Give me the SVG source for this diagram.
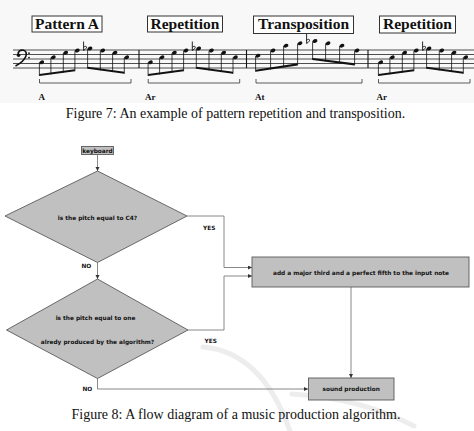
<svg xmlns="http://www.w3.org/2000/svg" xmlns:xlink="http://www.w3.org/1999/xlink" width="474" height="431" viewBox="0 0 474 431">
<style>
.staff{stroke:#222;stroke-width:0.8}
.bar{stroke:#111;stroke-width:1.1}
.head{fill:#111}
.stem{stroke:#111;stroke-width:0.8}
.beam{fill:#111}
.flat{stroke:#111;stroke-width:0.9;fill:none}
.brk{stroke:#333;stroke-width:0.8;fill:none}
.title{font-family:"Liberation Serif",serif;font-weight:bold;font-size:15.5px;fill:#111;text-anchor:middle}
.tbox{fill:#fff;stroke:#333;stroke-width:1}
.lab{font-family:"Liberation Serif",serif;font-weight:bold;font-size:9px;fill:#111}
.cap{font-family:"Liberation Serif",serif;font-size:14px;fill:#111;text-anchor:middle}
.node{fill:#c0c0c0;stroke:#5a5a5a;stroke-width:0.9}
.ft{font-family:"DejaVu Sans",sans-serif;font-weight:bold;font-size:5.8px;fill:#111;text-anchor:middle}
.fl{font-family:"DejaVu Sans",sans-serif;font-weight:bold;font-size:5.8px;fill:#111}
.conn{stroke:#7a7a7a;stroke-width:0.9;fill:none}
.wm{stroke:#ededed;stroke-width:5;fill:none;stroke-linecap:round}
</style>
<defs>
<marker id="arr" markerUnits="userSpaceOnUse" markerWidth="6" markerHeight="6" refX="4" refY="2" orient="auto">
<path d="M0,0 L4,2 L0,4 Z" fill="#333"/>
</marker>
<g id="pat">
<ellipse class="head" cx="41.7" cy="62.3" rx="2.5" ry="1.8" transform="rotate(-25 41.7 62.3)"/>
<ellipse class="head" cx="53.3" cy="57.3" rx="2.5" ry="1.8" transform="rotate(-25 53.3 57.3)"/>
<ellipse class="head" cx="65.7" cy="52.7" rx="2.5" ry="1.8" transform="rotate(-25 65.7 52.7)"/>
<ellipse class="head" cx="77.3" cy="50.5" rx="2.5" ry="1.8" transform="rotate(-25 77.3 50.5)"/>
<ellipse class="head" cx="90" cy="48.5" rx="2.5" ry="1.8" transform="rotate(-25 90 48.5)"/>
<ellipse class="head" cx="102.7" cy="50.5" rx="2.5" ry="1.8" transform="rotate(-25 102.7 50.5)"/>
<ellipse class="head" cx="115" cy="52.7" rx="2.5" ry="1.8" transform="rotate(-25 115 52.7)"/>
<ellipse class="head" cx="126.7" cy="57.3" rx="2.5" ry="1.8" transform="rotate(-25 126.7 57.3)"/>
<path class="stem" d="M39.4,62.5V76 M50.9,57.5V74.4 M63.3,53V72.7 M74.9,50.8V71.2 M87.6,48.8V68.7 M100.3,50.8V70.4 M112.6,53V72.1 M124.3,57.5V73.7"/>
<polygon class="beam" points="39.4,74 74.9,69.2 74.9,71.3 39.4,76.1"/>
<polygon class="beam" points="87.6,66.7 124.3,71.7 124.3,73.8 87.6,68.8"/>
<path class="flat" d="M83.6,41.5V50.5 M83.6,47.2 C86.5,45 88.5,47.5 83.6,50.5"/>
<path class="brk" d="M39.5,79V83H131V79"/>
</g>
</defs>
<rect x="0" y="0" width="474" height="103" fill="#f8f8f8"/>
<g id="watermark">
<path class="wm" d="M203,347 Q262,352 290,431"/>
<path class="wm" d="M292,394 Q360,398 414,426"/>
</g>
<g id="score">
<path class="staff" d="M13,50H474 M13,54.5H474 M13,59H474 M13,63.5H474 M13,68H474"/>
<path class="bar" d="M139,50V68 M246.5,50V68 M368,50V68"/>
<g id="clef">
<path d="M18.5,55.5 C17,51.5 20.5,49.6 23.5,50.3 C28.5,51.5 27.5,59.5 15.5,66" fill="none" stroke="#111" stroke-width="1.6"/>
<circle cx="18.6" cy="55.2" r="1.8" fill="#111"/>
<circle cx="29" cy="53.2" r="0.9" fill="#111"/>
<circle cx="29" cy="57.6" r="0.9" fill="#111"/>
</g>
<g id="m1"><use xlink:href="#pat"/></g>
<g id="m2"><use xlink:href="#pat" transform="translate(108.7,0)"/></g>
<g id="m4"><use xlink:href="#pat" transform="translate(339,0)"/></g>
<g id="m3">
<ellipse class="head" cx="258" cy="55.7" rx="2.5" ry="1.8" transform="rotate(-25 258 55.7)"/>
<ellipse class="head" cx="273" cy="50.5" rx="2.5" ry="1.8" transform="rotate(-25 273 50.5)"/>
<ellipse class="head" cx="286" cy="45.7" rx="2.5" ry="1.8" transform="rotate(-25 286 45.7)"/>
<ellipse class="head" cx="300" cy="43.3" rx="2.5" ry="1.8" transform="rotate(-25 300 43.3)"/>
<ellipse class="head" cx="315" cy="41" rx="2.5" ry="1.8" transform="rotate(-25 315 41)"/>
<ellipse class="head" cx="328" cy="43.3" rx="2.5" ry="1.8" transform="rotate(-25 328 43.3)"/>
<ellipse class="head" cx="342" cy="45.7" rx="2.5" ry="1.8" transform="rotate(-25 342 45.7)"/>
<ellipse class="head" cx="357" cy="50.5" rx="2.5" ry="1.8" transform="rotate(-25 357 50.5)"/>
<path class="stem" d="M255.6,56V71.7 M270.6,50.8V69.4 M283.6,46V67.4 M297.6,43.6V65.3 M312.6,41.3V60 M325.6,43.6V61.6 M339.6,46V63.4 M354.6,50.8V65.3"/>
<polygon class="beam" points="255.6,69.7 297.6,63.3 297.6,65.4 255.6,71.8"/>
<polygon class="beam" points="312.6,58 354.6,63.3 354.6,65.4 312.6,60.1"/>
<path class="flat" d="M306.6,33.5V43.5 M306.6,40.2 C309.5,38 311.5,40.5 306.6,43.5"/>
<path class="brk" d="M256,79V83H362V79"/>
</g>
<g id="titles">
<rect class="tbox" x="32" y="16" width="70" height="16"/>
<text class="title" x="67" y="28.8">Pattern A</text>
<rect class="tbox" x="147.5" y="16" width="75" height="16"/>
<text class="title" x="185" y="28.8">Repetition</text>
<rect class="tbox" x="253.5" y="16" width="100" height="17.5"/>
<text class="title" x="303.5" y="29.2">Transposition</text>
<rect class="tbox" x="379.5" y="16" width="76" height="17"/>
<text class="title" x="417.5" y="29">Repetition</text>
</g>
<g id="labels">
<text class="lab" x="38.5" y="99.5">A</text>
<text class="lab" x="145" y="99.5">Ar</text>
<text class="lab" x="255" y="99.5">At</text>
<text class="lab" x="376.5" y="99.5">Ar</text>
</g>
</g>
<text class="cap" x="235.5" y="118">Figure 7: An example of pattern repetition and transposition.</text>

<g id="connectors">
<path class="conn" d="M97.5,154.5V171" marker-end="url(#arr)"/>
<path class="conn" d="M97.5,262.5V279" marker-end="url(#arr)"/>
<path class="conn" d="M187,216H224V267.5H252" marker-end="url(#arr)"/>
<path class="conn" d="M188,330H224V276H252" marker-end="url(#arr)"/>
<path class="conn" d="M97.5,378.5V389H308" marker-end="url(#arr)"/>
<path class="conn" d="M351,287V378" marker-end="url(#arr)"/>
<text class="fl" x="203" y="230">YES</text>
<text class="fl" x="81.5" y="267.5">NO</text>
<text class="fl" x="204.5" y="342.5">YES</text>
<text class="fl" x="82.5" y="390.5">NO</text>
</g>
<g id="keyboard">
<rect class="node" x="81.5" y="146.5" width="32" height="8"/>
<text class="ft" x="97.5" y="152.6">keyboard</text>
</g>
<g id="decision1">
<polygon class="node" points="97.5,171 187,216 97.5,262.5 5,216"/>
<text class="ft" x="97.5" y="220.3">is the pitch equal to C4?</text>
</g>
<g id="decision2">
<polygon class="node" points="97.5,279 188,330 97.5,378.5 6.5,330"/>
<text class="ft" x="95.5" y="319.8">is the pitch equal to one</text>
<text class="ft" x="97.5" y="343.8">alredy produced by the algorithm?</text>
</g>
<g id="add">
<rect class="node" x="252" y="257" width="217" height="30"/>
<text class="ft" x="361" y="274.8">add a major third and a perfect fifth to the input note</text>
</g>
<g id="sound">
<rect class="node" x="308.5" y="378" width="85.5" height="22"/>
<text class="ft" x="351.2" y="391.3">sound production</text>
</g>
<text class="cap" x="236" y="419">Figure 8: A flow diagram of a music production algorithm.</text>
</svg>
